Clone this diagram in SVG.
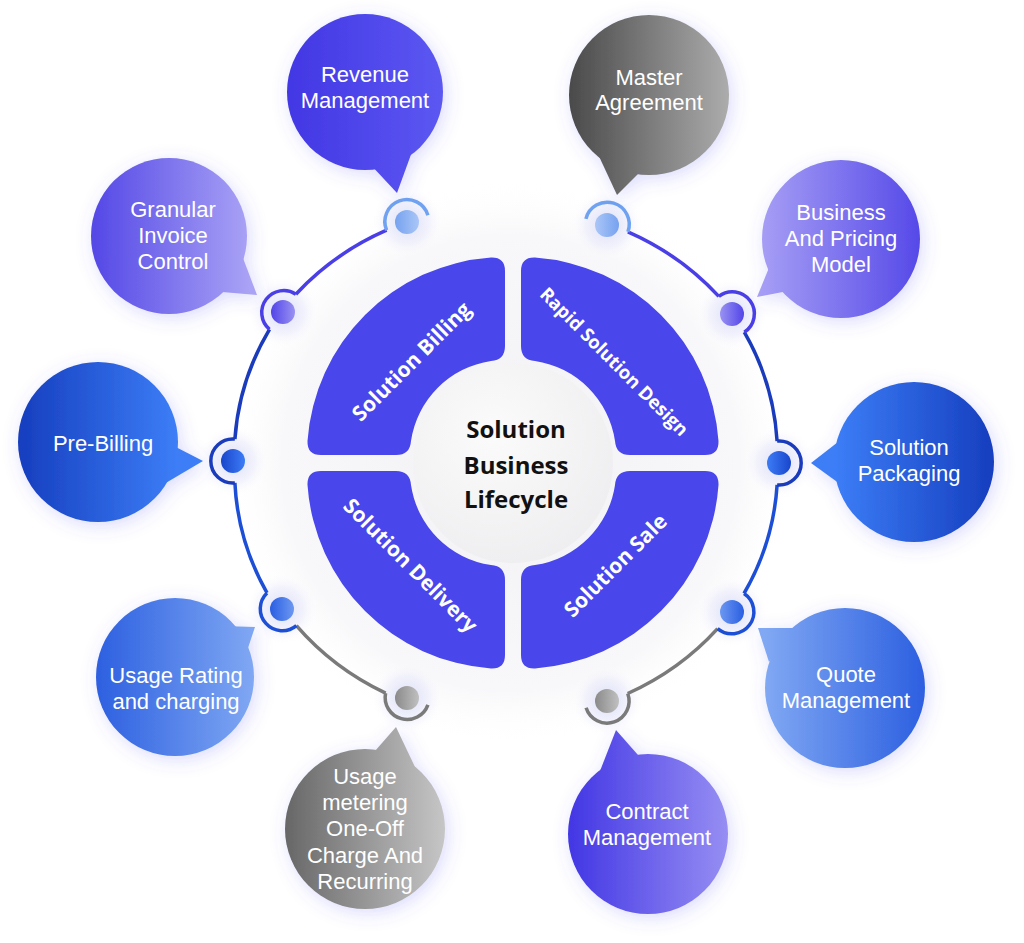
<svg xmlns="http://www.w3.org/2000/svg" width="1024" height="943" viewBox="0 0 1024 943">
<style>
.bt{font-family:"Liberation Sans",Arial,sans-serif;font-size:22px;fill:#ffffff;text-anchor:middle}
.qt{font-family:"Open Sans","Liberation Sans",sans-serif;font-weight:700;fill:#ffffff;text-anchor:middle;dominant-baseline:central}
.ct{font-family:"Open Sans","Liberation Sans",sans-serif;font-weight:700;font-size:24px;fill:#111111;text-anchor:middle}
.ring{fill:none;stroke-width:3.5;stroke-linecap:butt}
.quad{fill:#4946EC}
.bub{filter:url(#sh)}
</style>
<defs>
<filter id="sh" x="-40%" y="-40%" width="180%" height="180%">
<feDropShadow dx="3" dy="4" stdDeviation="9" flood-color="#5a5cf0" flood-opacity="0.22"/>
</filter>
<radialGradient id="glow" cx="0.5" cy="0.5" r="0.5">
<stop offset="0" stop-color="#d6d8f6" stop-opacity="0.9"/>
<stop offset="0.6" stop-color="#e6e7fa" stop-opacity="0.5"/>
<stop offset="1" stop-color="#ffffff" stop-opacity="0"/>
</radialGradient>
<radialGradient id="bgc" cx="0.5" cy="0.5" r="0.5">
<stop offset="0" stop-color="#f2f2f5"/>
<stop offset="0.8" stop-color="#f8f8fa"/>
<stop offset="1" stop-color="#ffffff" stop-opacity="0"/>
</radialGradient>
<radialGradient id="cen" cx="0.4" cy="0.35" r="0.7">
<stop offset="0" stop-color="#fbfbfb"/>
<stop offset="1" stop-color="#eeeef0"/>
</radialGradient>
<linearGradient id="gRev" gradientUnits="userSpaceOnUse" x1="-80" y1="0" x2="80" y2="0"><stop offset="0" stop-color="#4236e4"/><stop offset="1" stop-color="#5c58f2"/></linearGradient>
<linearGradient id="gMas" gradientUnits="userSpaceOnUse" x1="-80" y1="0" x2="80" y2="0"><stop offset="0" stop-color="#4a4a4a"/><stop offset="1" stop-color="#acacac"/></linearGradient>
<linearGradient id="gGra" gradientUnits="userSpaceOnUse" x1="-80" y1="0" x2="80" y2="0"><stop offset="0" stop-color="#5246e6"/><stop offset="1" stop-color="#a9a2f5"/></linearGradient>
<linearGradient id="gBus" gradientUnits="userSpaceOnUse" x1="-80" y1="0" x2="80" y2="0"><stop offset="0" stop-color="#a69ef5"/><stop offset="1" stop-color="#5549e8"/></linearGradient>
<linearGradient id="gPre" gradientUnits="userSpaceOnUse" x1="-80" y1="0" x2="80" y2="0"><stop offset="0" stop-color="#163ebe"/><stop offset="1" stop-color="#3c7ef7"/></linearGradient>
<linearGradient id="gPac" gradientUnits="userSpaceOnUse" x1="-80" y1="0" x2="80" y2="0"><stop offset="0" stop-color="#3c7ef7"/><stop offset="1" stop-color="#163ebe"/></linearGradient>
<linearGradient id="gUsa" gradientUnits="userSpaceOnUse" x1="-80" y1="0" x2="80" y2="0"><stop offset="0" stop-color="#2c5fe0"/><stop offset="1" stop-color="#80a8f3"/></linearGradient>
<linearGradient id="gQuo" gradientUnits="userSpaceOnUse" x1="-80" y1="0" x2="80" y2="0"><stop offset="0" stop-color="#80a8f3"/><stop offset="1" stop-color="#2c5fe0"/></linearGradient>
<linearGradient id="gMet" gradientUnits="userSpaceOnUse" x1="-80" y1="0" x2="80" y2="0"><stop offset="0" stop-color="#676767"/><stop offset="1" stop-color="#c6c6c6"/></linearGradient>
<linearGradient id="gCon" gradientUnits="userSpaceOnUse" x1="-80" y1="0" x2="80" y2="0"><stop offset="0" stop-color="#4236e4"/><stop offset="1" stop-color="#968ef3"/></linearGradient>
<linearGradient id="kLB" x1="0" y1="0" x2="1" y2="0"><stop offset="0" stop-color="#76a2ef"/><stop offset="1" stop-color="#aac6f7"/></linearGradient>
<linearGradient id="kLB2" x1="0" y1="0" x2="1" y2="0"><stop offset="0" stop-color="#aac6f7"/><stop offset="1" stop-color="#76a2ef"/></linearGradient>
<linearGradient id="kPu" x1="0" y1="0" x2="1" y2="0"><stop offset="0" stop-color="#5245e8"/><stop offset="1" stop-color="#9a92f2"/></linearGradient>
<linearGradient id="kPu2" x1="0" y1="0" x2="1" y2="0"><stop offset="0" stop-color="#9a92f2"/><stop offset="1" stop-color="#5245e8"/></linearGradient>
<linearGradient id="kDB" x1="0" y1="0" x2="1" y2="0"><stop offset="0" stop-color="#1946cc"/><stop offset="1" stop-color="#3d7cf6"/></linearGradient>
<linearGradient id="kDB2" x1="0" y1="0" x2="1" y2="0"><stop offset="0" stop-color="#3d7cf6"/><stop offset="1" stop-color="#1946cc"/></linearGradient>
<linearGradient id="kB" x1="0" y1="0" x2="1" y2="0"><stop offset="0" stop-color="#2a5ee2"/><stop offset="1" stop-color="#6c98f1"/></linearGradient>
<linearGradient id="kB2" x1="0" y1="0" x2="1" y2="0"><stop offset="0" stop-color="#6c98f1"/><stop offset="1" stop-color="#2a5ee2"/></linearGradient>
<linearGradient id="kG" x1="0" y1="0" x2="1" y2="0"><stop offset="0" stop-color="#8a8a8a"/><stop offset="1" stop-color="#c0c0c0"/></linearGradient>
<path id="qshape" d="M321,455 L396,455 Q410,455 411,441 A95,95 0 0 1 491,361 Q505,360 505,346 L505,271 Q505,257 491,257.5 A198,198 0 0 0 307.5,441 Q307,455 321,455 Z"/>
</defs>

<rect x="0" y="0" width="1024" height="943" fill="#ffffff"/>
<circle cx="510" cy="463" r="285" fill="url(#bgc)"/>

<!-- knob glows -->
<g id="glows" fill="url(#glow)">
<circle cx="407" cy="222" r="36"/>
<circle cx="283" cy="312" r="36"/>
<circle cx="233" cy="461" r="36"/>
<circle cx="282" cy="609" r="36"/>
<circle cx="407" cy="698" r="36"/>
<circle cx="607" cy="225" r="36"/>
<circle cx="732" cy="314" r="36"/>
<circle cx="779" cy="463" r="36"/>
<circle cx="732" cy="612" r="36"/>
<circle cx="607" cy="701" r="36"/>
</g>

<!-- connectors: outer ring -->
<g id="connectors">
<path class="ring" stroke="#4a3fe6" d="M386.6,230.2 A273,258 0 0 0 295.9,294.2"/>
<path class="ring" stroke="#1a3cbc" d="M269.5,329.3 A273,258 0 0 0 234.9,439.1"/>
<path class="ring" stroke="#1d4fd6" d="M234.9,482.9 A273,258 0 0 0 267,592.9"/>
<path class="ring" stroke="#7a7a7a" d="M296.4,625.6 A273,258 0 0 0 385.6,693.1"/>
<path class="ring" stroke="#4a3fe6" d="M627.9,231.8 A273,258 0 0 1 718.8,296.4"/>
<path class="ring" stroke="#1a3cbc" d="M744.3,332.2 A273,258 0 0 1 777.1,441.1"/>
<path class="ring" stroke="#1d4fd6" d="M777.1,484.9 A273,258 0 0 1 744,593.5"/>
<path class="ring" stroke="#7a7a7a" d="M717.6,628.6 A273,258 0 0 1 627.7,693.5"/>
</g>

<!-- knobs -->
<g id="knob1"><path class="ring" stroke="#6fa2f0" d="M386.6,230.2 A22,22 0 1 1 427.9,215.2"/><circle cx="407" cy="222" r="12" fill="url(#kLB)"/></g>
<g id="knob2"><path class="ring" stroke="#4a3fe6" d="M295.9,294.2 A22,22 0 0 0 269.5,329.3"/><circle cx="283" cy="312" r="12" fill="url(#kPu)"/></g>
<g id="knob3"><path class="ring" stroke="#1a3cbc" d="M234.9,439.1 A22,22 0 1 0 234.9,482.9"/><circle cx="233" cy="461" r="12" fill="url(#kDB)"/></g>
<g id="knob4"><path class="ring" stroke="#1d4fd6" d="M267,592.9 A22,22 0 0 0 296.4,625.6"/><circle cx="282" cy="609" r="12" fill="url(#kB)"/></g>
<g id="knob5"><path class="ring" stroke="#7a7a7a" d="M385.6,693.1 A22,22 0 0 0 427.9,704.8"/><circle cx="407" cy="698" r="12" fill="url(#kG)"/></g>
<g id="knob6"><path class="ring" stroke="#6fa2f0" d="M585.9,218.9 A22,22 0 1 1 627.9,231.8"/><circle cx="607" cy="225" r="12" fill="url(#kLB2)"/></g>
<g id="knob7"><path class="ring" stroke="#4a3fe6" d="M718.8,296.4 A22,22 0 1 1 744.3,332.2"/><circle cx="732" cy="314" r="12" fill="url(#kPu2)"/></g>
<g id="knob8"><path class="ring" stroke="#1a3cbc" d="M777.1,441.1 A22,22 0 1 1 777.1,484.9"/><circle cx="779" cy="463" r="12" fill="url(#kDB2)"/></g>
<g id="knob9"><path class="ring" stroke="#1d4fd6" d="M744,593.5 A22,22 0 1 1 717.6,628.6"/><circle cx="732" cy="612" r="12" fill="url(#kB2)"/></g>
<g id="knob10"><path class="ring" stroke="#7a7a7a" d="M586.1,707.8 A22,22 0 1 0 627.7,693.5"/><circle cx="607" cy="701" r="12" fill="url(#kG)"/></g>

<!-- center -->
<circle cx="513" cy="463" r="100" fill="url(#cen)"/>

<g id="q-billing">
<use href="#qshape" class="quad"/>
<text class="qt" font-size="21" transform="translate(411,361) rotate(-45)">Solution Billing</text>
</g>
<g id="q-design">
<use href="#qshape" class="quad" transform="rotate(90 513 463)"/>
<text class="qt" font-size="18.5" transform="translate(615,361) rotate(45)">Rapid Solution Design</text>
</g>
<g id="q-sale">
<use href="#qshape" class="quad" transform="rotate(180 513 463)"/>
<text class="qt" font-size="21" transform="translate(615,565) rotate(-45)">Solution Sale</text>
</g>
<g id="q-delivery">
<use href="#qshape" class="quad" transform="rotate(270 513 463)"/>
<text class="qt" font-size="21" transform="translate(411,565) rotate(45)">Solution Delivery</text>
</g>

<g id="center-title">
<text class="ct" x="516" y="438">Solution</text>
<text class="ct" x="516" y="474">Business</text>
<text class="ct" x="516" y="508">Lifecycle</text>
</g>

<!-- bubbles -->
<g id="revenue-management" transform="translate(365,92)">
<g class="bub" fill="url(#gRev)"><circle r="78"/><polygon points="5,72 48,57 32,101"/></g>
<text class="bt" x="0" y="-10">Revenue</text><text class="bt" x="0" y="16">Management</text>
</g>
<g id="master-agreement" transform="translate(649,95)">
<g class="bub" fill="url(#gMas)"><circle r="80"/><polygon points="-52,57 -10,78 -32,100"/></g>
<text class="bt" x="0" y="-10">Master</text><text class="bt" x="0" y="15">Agreement</text>
</g>
<g id="granular-invoice-control" transform="translate(169,236)">
<g class="bub" fill="url(#gGra)"><circle r="78"/><polygon points="53,56 74,22 88,59"/></g>
<text class="bt" x="4" y="-19">Granular</text><text class="bt" x="4" y="7">Invoice</text><text class="bt" x="4" y="33">Control</text>
</g>
<g id="business-pricing-model" transform="translate(841,239)">
<g class="bub" fill="url(#gBus)"><circle r="79"/><polygon points="-48,51 -68,19 -84,58"/></g>
<text class="bt" x="0" y="-19">Business</text><text class="bt" x="0" y="7">And Pricing</text><text class="bt" x="0" y="33">Model</text>
</g>
<g id="pre-billing" transform="translate(98,442)">
<g class="bub" fill="url(#gPre)"><circle r="80"/><polygon points="72,2 66,42 105,19"/></g>
<text class="bt" x="5" y="9">Pre-Billing</text>
</g>
<g id="solution-packaging" transform="translate(914,462)">
<g class="bub" fill="url(#gPac)"><circle r="80"/><polygon points="-76,-20 -74,22 -103,1"/></g>
<text class="bt" x="-5" y="-7">Solution</text><text class="bt" x="-5" y="19">Packaging</text>
</g>
<g id="usage-rating" transform="translate(175,677)">
<g class="bub" fill="url(#gUsa)"><circle r="79"/><polygon points="48,-51 70,-20 80,-50"/></g>
<text class="bt" x="1" y="6">Usage Rating</text><text class="bt" x="1" y="32">and charging</text>
</g>
<g id="quote-management" transform="translate(845,688)">
<g class="bub" fill="url(#gQuo)"><circle r="80"/><polygon points="-50,-60 -76,-26 -87,-60"/></g>
<text class="bt" x="1" y="-6">Quote</text><text class="bt" x="1" y="20">Management</text>
</g>
<g id="usage-metering" transform="translate(365,829)">
<g class="bub" fill="url(#gMet)"><circle r="80"/><polygon points="10,-78 50,-62 31,-102"/></g>
<text class="bt" x="0" y="-45">Usage</text><text class="bt" x="0" y="-19">metering</text><text class="bt" x="0" y="7">One-Off</text><text class="bt" x="0" y="34">Charge And</text><text class="bt" x="0" y="60">Recurring</text>
</g>
<g id="contract-management" transform="translate(648,834)">
<g class="bub" fill="url(#gCon)"><circle r="80"/><polygon points="-48,-63 -10,-79 -32,-104"/></g>
<text class="bt" x="-1" y="-15">Contract</text><text class="bt" x="-1" y="11">Management</text>
</g>
</svg>
